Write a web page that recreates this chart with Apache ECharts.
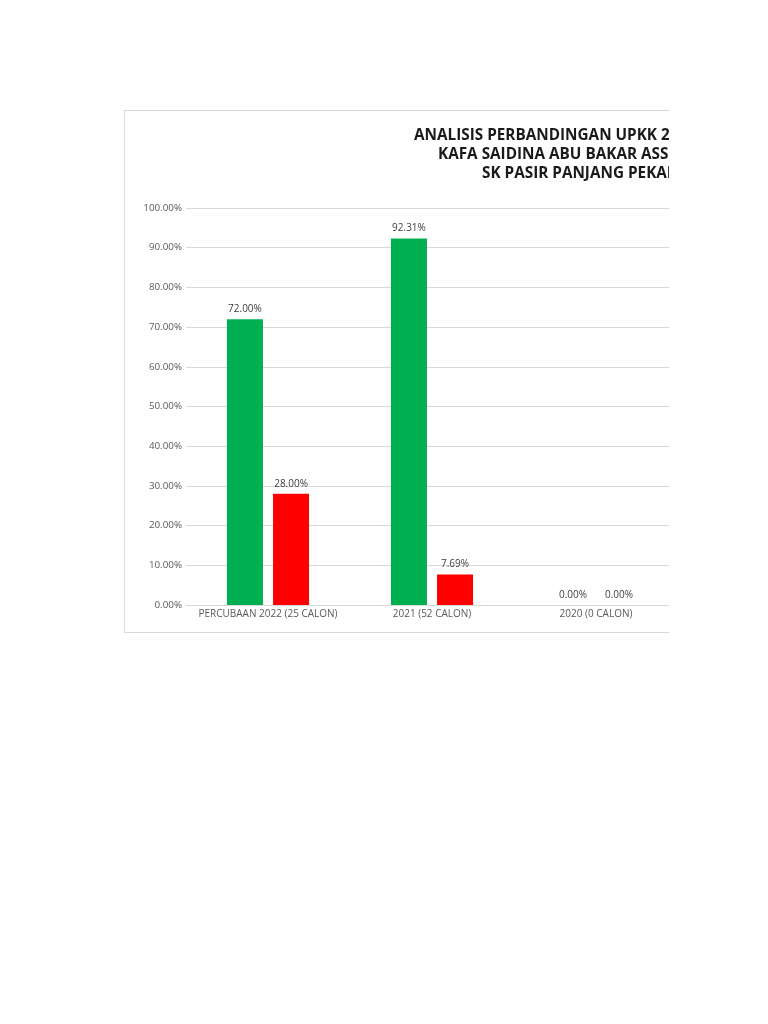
<!DOCTYPE html>
<html>
<head>
<meta charset="utf-8">
<script src="https://cdn.jsdelivr.net/npm/echarts@6/dist/echarts.min.js"></script>
<style>
html,body{margin:0;padding:0;background:#fff;width:768px;height:1024px;overflow:hidden;}
#frame{position:absolute;left:124px;top:110px;width:544px;height:521px;overflow:hidden;
  border-left:1px solid #d9d9d9;border-top:1px solid #d9d9d9;border-bottom:1px solid #d9d9d9;}
#chart{position:absolute;left:0;top:0;width:640px;height:521px;}
</style>
</head>
<body>
<div id="frame"><div id="chart"></div></div>
<script>
const categories = ['PERCUBAAN 2022 (25 CALON)', '2021 (52 CALON)', '2020 (0 CALON)'];
const lulus = [72.00, 92.31, 0.00];
const gagal = [28.00, 7.69, 0.00];
const titleLines = ['ANALISIS PERBANDINGAN UPKK 2020-2022', 'KAFA SAIDINA ABU BAKAR ASSIDDIQ', 'SK PASIR PANJANG PEKAN NANAS'];
const yTicks = [0, 10, 20, 30, 40, 50, 60, 70, 80, 90, 100];

const chart = echarts.init(document.getElementById('chart'), null, {renderer: 'canvas'});
const labelStyle = {
  show: true, position: 'top', distance: 5,
  color: '#404040', fontSize: 10, fontFamily: 'Open Sans',
  formatter: p => p.value.toFixed(2) + '%'
};
const titleX = [289, 313, 357];
chart.setOption({
  animation: false,
  backgroundColor: '#fff',
  graphic: titleLines.map((t, i) => ({
    type: 'text', left: titleX[i], top: 17 + i * 19,
    style: {text: t, fill: '#1a1a1a', fontSize: 15.3, fontWeight: 'bold', fontFamily: 'Open Sans'}
  })),
  grid: {left: 61, right: 87, top: 97, bottom: 27},
  xAxis: {
    type: 'category', data: categories,
    axisTick: {show: false},
    axisLine: {lineStyle: {color: '#d9d9d9'}},
    axisLabel: {interval: 0, color: '#595959', fontSize: 10, fontFamily: 'Open Sans', margin: 4}
  },
  yAxis: {
    type: 'value', min: 0, max: 100, interval: 10,
    axisLabel: {color: '#595959', fontSize: 9.8, fontFamily: 'Open Sans', margin: 4,
      formatter: v => yTicks.includes(v) ? v.toFixed(2) + '%' : ''},
    splitLine: {lineStyle: {color: '#d9d9d9'}},
    axisLine: {show: false}, axisTick: {show: false}
  },
  series: [
    {name: 'Lulus', type: 'bar', data: lulus, barWidth: 36, barGap: '28%',
     itemStyle: {color: '#00B050'}, label: labelStyle},
    {name: 'Gagal', type: 'bar', data: gagal, barWidth: 36,
     itemStyle: {color: '#FF0000'}, label: labelStyle}
  ]
});
</script>
</body>
</html>
